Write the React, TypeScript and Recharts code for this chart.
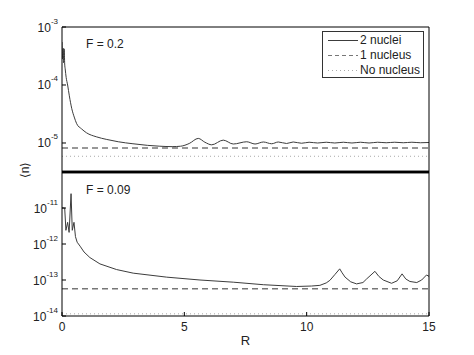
import React from 'react'
import { LineChart, Line, XAxis, YAxis, Legend } from 'recharts'

// panel 1 (F = 0.2)
const R_TOP = [0, 0.02, 0.05, 0.07, 0.09, 0.11, 0.13, 0.17, 0.23, 0.3, 0.4, 0.5, 0.6, 0.8, 1.0, 1.4, 1.83, 2.3, 2.9, 3.5,
  4.0, 4.5, 4.85, 5.2, 5.57, 5.84, 6.12, 6.59, 7.0, 7.55, 7.89, 8.23, 8.57, 8.84, 9.18, 9.45, 9.79, 10.1, 10.45, 10.8,
  11.15, 11.5, 11.85, 12.2, 12.55, 12.9, 13.25, 13.6, 13.95, 14.3, 14.65, 15]
const N_TOP = [5.5e-4, 2.8e-4, 4.3e-4, 2.4e-4, 4.2e-4, 2.3e-4, 1.9e-4, 1.35e-4, 1.0e-4, 6.5e-5, 3.9e-5, 2.8e-5, 2.15e-5, 1.75e-5, 1.5e-5, 1.28e-5, 1.15e-5, 1.05e-5, 9.7e-6, 9.1e-6,
  8.8e-6, 8.65e-6, 8.8e-6, 9.8e-6, 1.2e-5, 1.03e-5, 9.3e-6, 1.12e-5, 9.6e-6, 1.05e-5, 9.6e-6, 1.04e-5, 9.7e-6, 1.04e-5, 9.8e-6, 1.04e-5, 9.9e-6, 1.03e-5, 1.0e-5, 1.03e-5,
  1.0e-5, 1.03e-5, 1.0e-5, 1.03e-5, 1.0e-5, 1.03e-5, 1.01e-5, 1.03e-5, 1.01e-5, 1.03e-5, 1.01e-5, 1.02e-5]
const ONE_TOP = [8.2e-6, 8.2e-6]
const NONE_TOP = [5.9e-6, 5.9e-6]
const TICKS_TOP = [1e-5, 1e-4, 1e-3]

// panel 2 (F = 0.09)
const R_BOT = [0, 0.11, 0.16, 0.23, 0.29, 0.37, 0.42, 0.49, 0.55, 0.62, 0.74, 0.9, 1.14, 1.55, 2.23, 2.91, 4.28, 5.64, 7.0, 8.23,
  9.59, 10.2, 10.54, 10.8, 10.95, 11.15, 11.35, 11.45, 11.57, 11.8, 12.04, 12.3, 12.45, 12.79, 12.95, 13.13, 13.47, 13.7, 13.9, 14.05,
  14.22, 14.5, 14.7, 14.9, 15]
const N_BOT = [1.0e-11, 1.0e-11, 2.4e-12, 4.0e-12, 2.1e-12, 2.5e-11, 2.4e-12, 4.0e-12, 1.6e-12, 1.12e-12, 8.7e-13, 6.0e-13, 4.2e-13, 2.8e-13, 1.95e-13, 1.55e-13, 1.2e-13, 1.0e-13, 8.7e-14, 7.4e-14,
  6.6e-14, 6.8e-14, 7.1e-14, 8.3e-14, 9.8e-14, 1.41e-13, 2.04e-13, 1.58e-13, 1.2e-13, 8.9e-14, 7.8e-14, 8.5e-14, 1.07e-13, 1.74e-13, 1.26e-13, 1.0e-13, 8.1e-14, 9.5e-14, 1.48e-13, 1.07e-13,
  9.1e-14, 8.5e-14, 1.0e-13, 1.38e-13, 1.26e-13]
const ONE_BOT = [5.7e-14, 5.7e-14]
const NONE_BOT = [1.15e-14, 1.15e-14]
const TICKS_BOT = [1e-14, 1e-13, 1e-12, 1e-11]

const R_FLAT = [0, 15]
const R_TICKS = [0, 5, 10, 15]
const SERIES = ['2 nuclei', '1 nucleus', 'No nucleus']

const rows = (r: number[], n: number[]) => r.map((x, i) => ({ r: x, n: n[i] }))

const FONT = '"Liberation Sans", Arial, Helvetica, sans-serif'
const W = 474
const styles = [
  { stroke: '#3c3c3c', strokeWidth: 1, strokeDasharray: undefined as string | undefined },
  { stroke: '#777', strokeWidth: 1.5, strokeDasharray: '6 4' },
  { stroke: '#aaa', strokeWidth: 1, strokeDasharray: '1 3' },
]

function PowTick({ x, y, payload }: any) {
  const e = Math.round(Math.log10(payload.value))
  return (
    <text x={x} y={y} textAnchor="end" fontFamily={FONT} fill="#222">
      <tspan fontSize={12} dy={4.5}>10</tspan>
      <tspan fontSize={8} dy={-8}>{e}</tspan>
    </text>
  )
}

function LegendBox() {
  return (
    <div style={{ boxSizing: 'border-box', width: 102, height: 47, border: '1px solid #333', background: '#fff',
      padding: '1px 0 0 5px', fontFamily: FONT, fontSize: 12, color: '#222' }}>
      {SERIES.map((name, i) => (
        <div key={name} style={{ display: 'flex', alignItems: 'center', height: 15 }}>
          <svg width={30} height={15} style={{ display: 'block' }}>
            <line x1={0} x2={30} y1={7.5} y2={7.5} stroke={styles[i].stroke} strokeWidth={1}
              strokeDasharray={i === 1 ? '4 3' : styles[i].strokeDasharray} />
          </svg>
          <span style={{ marginLeft: 2, lineHeight: '15px' }}>{name}</span>
        </div>
      ))}
    </div>
  )
}

function Panel({ height, topAxisH, bottomAxisH, domain, ticks, main, one, none, curve, showX, children }: any) {
  return (
    <LineChart width={W} height={height} margin={{ top: 0, right: 0, bottom: 0, left: 0 }}>
      <XAxis xAxisId="t" orientation="top" type="number" domain={[0, 15]} ticks={R_TICKS} tick={false}
        tickSize={-4} height={topAxisH} axisLine={{ stroke: '#000', strokeWidth: showX ? 2.5 : 1 }} tickLine={{ stroke: '#000' }} />
      <XAxis xAxisId="b" dataKey="r" type="number" domain={[0, 15]} ticks={R_TICKS} allowDataOverflow
        tick={showX ? { fontSize: 12, fill: '#222', fontFamily: FONT } : false} tickSize={-4} tickMargin={10}
        height={bottomAxisH} axisLine={{ stroke: '#000', strokeWidth: showX ? 1 : 2.5 }} tickLine={{ stroke: '#000' }}
        label={showX ? { value: 'R', position: 'insideBottom', offset: 10, fontSize: 13, fill: '#222', fontFamily: FONT } : undefined} />
      <YAxis yAxisId="l" type="number" scale="log" domain={domain} ticks={ticks} allowDataOverflow
        tick={<PowTick />} tickSize={-4} tickMargin={8} width={62} axisLine={{ stroke: '#000' }} tickLine={{ stroke: '#000' }} />
      <YAxis yAxisId="r" orientation="right" type="number" scale="log" domain={domain} ticks={ticks} allowDataOverflow
        tick={false} tickSize={-4} width={W - 429} axisLine={{ stroke: '#000' }} tickLine={{ stroke: '#000' }} />
      <Line xAxisId="b" yAxisId="l" data={rows(R_FLAT, none)} dataKey="n" name={SERIES[2]} dot={false} activeDot={false}
        isAnimationActive={false} type="linear" {...styles[2]} />
      <Line xAxisId="b" yAxisId="l" data={rows(R_FLAT, one)} dataKey="n" name={SERIES[1]} dot={false} activeDot={false}
        isAnimationActive={false} type="linear" {...styles[1]} />
      <Line xAxisId="b" yAxisId="l" data={main} dataKey="n" name={SERIES[0]} dot={false} activeDot={false}
        isAnimationActive={false} type={curve} {...styles[0]} />
      {children}
    </LineChart>
  )
}

export default function App() {
  return (
    <div style={{ position: 'absolute', left: 0, top: 0, width: W, height: 355, background: '#fff', fontFamily: FONT }}>
      <div style={{ position: 'absolute', left: 0, top: 0 }}>
        <Panel height={355} topAxisH={172} bottomAxisH={39} domain={[1e-14, 1e-10]} ticks={TICKS_BOT}
          main={rows(R_BOT, N_BOT)} one={ONE_BOT} none={NONE_BOT} curve="linear" showX />
      </div>
      <div style={{ position: 'absolute', left: 0, top: 0 }}>
        <Panel height={180} topAxisH={27} bottomAxisH={8} domain={[3.16e-6, 1e-3]} ticks={TICKS_TOP}
          main={rows(R_TOP, N_TOP)} one={ONE_TOP} none={NONE_TOP} curve="monotone" showX={false}>
          <Legend content={<LegendBox />} layout="horizontal" verticalAlign="middle" align="center"
            wrapperStyle={{ top: 31, left: 322, width: 102, height: 47 }} />
        </Panel>
      </div>
      <div style={{ position: 'absolute', left: 86, top: 37, fontSize: 12, lineHeight: '14px', color: '#222' }}>F = 0.2</div>
      <div style={{ position: 'absolute', left: 86, top: 183, fontSize: 12, lineHeight: '14px', color: '#222' }}>F = 0.09</div>
      <div style={{ position: 'absolute', left: 25, top: 170, fontSize: 12, lineHeight: '14px', color: '#222',
        transform: 'translate(-50%, -50%) rotate(-90deg)', whiteSpace: 'nowrap' }}>⟨n⟩</div>
    </div>
  )
}
